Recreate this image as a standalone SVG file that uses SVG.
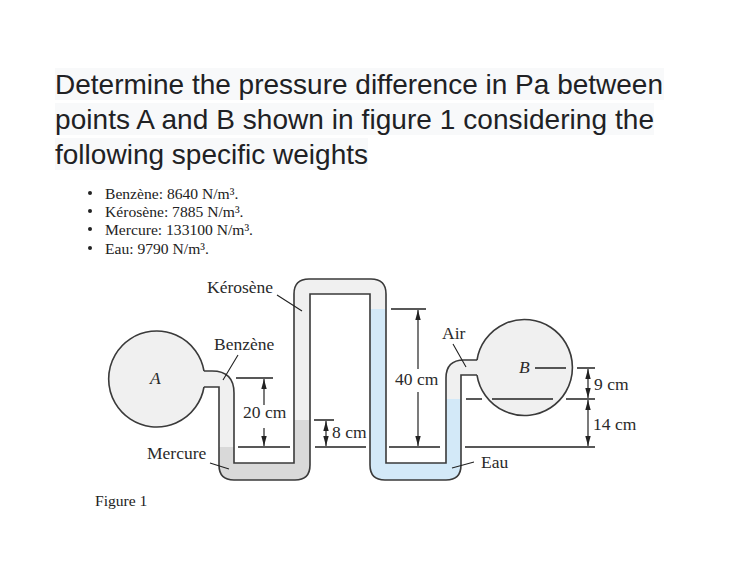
<svg xmlns="http://www.w3.org/2000/svg" width="731" height="565" viewBox="0 0 731 565">
<defs>
<marker id="a" viewBox="0 0 10 6" refX="10" refY="3" markerWidth="10" markerHeight="6" markerUnits="userSpaceOnUse" orient="auto-start-reverse"><path d="M0 0.3L10 3L0 5.7z" fill="#222"/></marker>
</defs>
<style>
.h{font:28px "Liberation Sans",Arial,sans-serif;fill:#202124}
.s{font:15.6px "Liberation Serif","Times New Roman",serif;fill:#222}
.l{font:17.5px "Liberation Serif","Times New Roman",serif;fill:#2a2a2a}
.i{font-style:italic}
.o{fill:none;stroke:#3a3a3a;stroke-width:1.6}
.d{fill:none;stroke:#222;stroke-width:1.3}
.e{fill:none;stroke:#222;stroke-width:1.2;marker-end:url(#a)}
.b{fill:none;stroke:#222;stroke-width:1.2;marker-start:url(#a);marker-end:url(#a)}
.t{fill:none;stroke:#222;stroke-width:1.1}
</style>
<rect width="731" height="565" fill="#fff"/>
<g id="question">
<rect x="55" y="68" width="609" height="32" fill="#f8f9fa"/>
<rect x="55" y="103" width="599" height="32" fill="#f8f9fa"/>
<rect x="55" y="138" width="313" height="32" fill="#f8f9fa"/>
<text class="h" x="55" y="94" textLength="608">Determine the pressure difference in Pa between</text>
<text class="h" x="55" y="129" textLength="599">points A and B shown in figure 1 considering the</text>
<text class="h" x="55" y="164" textLength="313">following specific weights</text>
</g>
<g id="list">
<circle cx="90" cy="193" r="2" fill="#222"/><circle cx="90" cy="211" r="2" fill="#222"/><circle cx="90" cy="229" r="2" fill="#222"/><circle cx="90" cy="248" r="2" fill="#222"/>
<text class="s" x="105" y="199">Benzène: 8640 N/m³.</text>
<text class="s" x="105" y="217">Kérosène: 7885 N/m³.</text>
<text class="s" x="105" y="235">Mercure: 133100 N/m³.</text>
<text class="s" x="105" y="254">Eau: 9790 N/m³.</text>
</g>
<g id="fluids">
<circle cx="156" cy="379" r="48" fill="#f0f0f0"/>
<circle cx="525" cy="368" r="48" fill="#f0f0f0"/>
<path d="M200 371H212Q234 371 234 393V447H219V387H200z" fill="#f0f0f0"/>
<path d="M219 447H234V463H294V420H310V465Q310 480 295 480H234Q219 480 219 465z" fill="#d9d9d9"/>
<path d="M294 420V294Q294 279 309 279H371Q386 279 386 294V309H370V294H310V420z" fill="#f0f0f0"/>
<path d="M370 309H386V463H446V399H461V465Q461 480 446 480H385Q370 480 370 465z" fill="#d3e9f8"/>
<path d="M446 399V378Q446 360 464 360H482V375H461V399z" fill="#f0f0f0"/>
</g>
<g id="tube">
<path class="o" d="M204 371H212Q234 371 234 393V463H294V294Q294 279 309 279H371Q386 279 386 294V463H446V378Q446 360 464 360H477"/>
<path class="o" d="M204 387H219V465Q219 480 234 480H295Q310 480 310 465V294H370V465Q370 480 385 480H446Q461 480 461 465V375H477"/>
<path class="o" d="M204 371A48 48 0 1 0 204 387"/>
<path class="o" d="M477 360A48 48 0 1 1 477 375"/>
</g>
<g id="connectors">
<path class="d" d="M236 378H273M238 447H290M314 420H334M315 447H366M389 447H440M391 309H426M466 399H482M492 399H553M566 399H595M465 447H595M535 368H566M577 368H595"/>
<path class="e" d="M264 405V379"/>
<path class="e" d="M264 428V446"/>
<path class="b" d="M326 421V446"/>
<path class="e" d="M418 369V310"/>
<path class="e" d="M418 392V446"/>
<path class="b" d="M588 369V398"/>
<path class="b" d="M588 400V446"/>
<path class="t" d="M277 295L302 311M238 355L223 380M210 463L229 469M453 344L466 367M474 462L452 468"/>
</g>
<g id="labels">
<text class="l" x="207" y="293">Kérosène</text>
<text class="l" x="214" y="350">Benzène</text>
<text class="l i" x="150" y="384">A</text>
<text class="l" x="243" y="418">20 cm</text>
<text class="l" x="147" y="459">Mercure</text>
<text class="l" x="332" y="438">8 cm</text>
<text class="l" x="395" y="385">40 cm</text>
<text class="l" x="442" y="339">Air</text>
<text class="l i" x="519" y="373">B</text>
<text class="l" x="594" y="390">9 cm</text>
<text class="l" x="593" y="430">14 cm</text>
<text class="l" x="481" y="468">Eau</text>
<text class="s" x="95" y="506">Figure 1</text>
</g>
</svg>
